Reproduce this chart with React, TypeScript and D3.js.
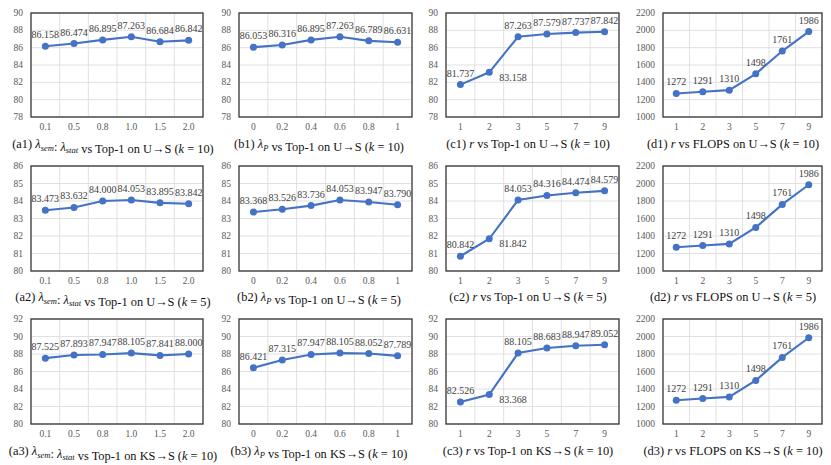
import * as d3 from 'd3'

// x categories
const xRatio = ['0.1', '0.5', '0.8', '1.0', '1.5', '2.0']
const xLambdaP = ['0', '0.2', '0.4', '0.6', '0.8', '1']
const xR = ['1', '2', '3', '5', '7', '9']

// Top-1 accuracy values
const a1 = [86.158, 86.474, 86.895, 87.263, 86.684, 86.842]
const b1 = [86.053, 86.316, 86.895, 87.263, 86.789, 86.631]
const c1 = [81.737, 83.158, 87.263, 87.579, 87.737, 87.842]
const a2 = [83.473, 83.632, 84.0, 84.053, 83.895, 83.842]
const b2 = [83.368, 83.526, 83.736, 84.053, 83.947, 83.79]
const c2 = [80.842, 81.842, 84.053, 84.316, 84.474, 84.579]
const a3 = [87.525, 87.893, 87.947, 88.105, 87.841, 88.0]
const b3 = [86.421, 87.315, 87.947, 88.105, 88.052, 87.789]
const c3 = [82.526, 83.368, 88.105, 88.683, 88.947, 89.052]
// FLOPS
const flops = [1272, 1291, 1310, 1498, 1761, 1986]

// y axis ranges [min, max, step]
const yRow1: [number, number, number] = [78, 90, 2]
const yRow2: [number, number, number] = [80, 86, 1]
const yRow3: [number, number, number] = [80, 92, 2]
const yFlops: [number, number, number] = [1000, 2200, 200]

const tasks = ['U→S', 'U→S', 'KS→S']
const kValues = ['10', '5', '10']

const SERIF = "'Liberation Serif', Tinos, 'Times New Roman', Times, 'DejaVu Serif', serif"
const BLUE = '#4472C4'

const cols = [
  { l: 31, r: 203, cap: 113 },
  { l: 239, r: 412, cap: 319 },
  { l: 446, r: 619, cap: 528 },
  { l: 663, r: 822, cap: 733 },
]
const rows = [
  { t: 13, b: 117, cap: 148 },
  { t: 166, b: 271, cap: 301 },
  { t: 319, b: 424, cap: 455 },
]

interface PanelProps {
  col: number
  row: number
  cats: string[]
  values: number[]
  yr: [number, number, number]
  decimals: number
  sideLabel?: number
}

function Panel({ col, row, cats, values, yr, decimals, sideLabel = -1 }: PanelProps) {
  const { l, r } = cols[col]
  const { t, b } = rows[row]
  const x = d3.scaleBand().domain(cats).range([l, r]).padding(0)
  const y = d3.scaleLinear().domain([yr[0], yr[1]]).range([b, t])
  const ticks = d3.range(yr[0], yr[1] + yr[2] / 2, yr[2])
  const cx = (c: string) => (x(c) ?? 0) + x.bandwidth() / 2
  const line = d3.line<number>().x((_, i) => cx(cats[i])).y(v => y(v))
  return (
    <g>
      {ticks.map(tk => (
        <line key={'h' + tk} x1={l} x2={r} y1={y(tk)} y2={y(tk)} stroke="#d9d9d9" strokeWidth={0.8} />
      ))}
      {cats.slice(1).map(c => (
        <line key={'v' + c} x1={x(c)} x2={x(c)} y1={t} y2={b} stroke="#d9d9d9" strokeWidth={0.8} />
      ))}
      <rect x={l} y={t} width={r - l} height={b - t} fill="none" stroke="#333" strokeWidth={1.3} />
      {ticks.map(tk => (
        <text key={'yl' + tk} x={l - 8} y={y(tk) + 3} textAnchor="end" fontSize={9.5} fill="#595959">
          {tk}
        </text>
      ))}
      {cats.map(c => (
        <text key={'xl' + c} x={cx(c)} y={b + 13} textAnchor="middle" fontSize={9.5} fill="#595959">
          {c}
        </text>
      ))}
      <path d={line(values) ?? ''} fill="none" stroke={BLUE} strokeWidth={2.1} />
      {values.map((v, i) => (
        <circle key={'p' + i} cx={cx(cats[i])} cy={y(v)} r={3.5} fill={BLUE} />
      ))}
      {values.map((v, i) =>
        i === sideLabel ? (
          <text key={'d' + i} x={cx(cats[i]) + 10} y={y(v) + 8.5} fontSize={10} fill="#404040">
            {v.toFixed(decimals)}
          </text>
        ) : (
          <text key={'d' + i} x={cx(cats[i])} y={y(v) - 8} textAnchor="middle" fontSize={10} fill="#404040">
            {v.toFixed(decimals)}
          </text>
        )
      )}
    </g>
  )
}

function Caption({ col, row }: { col: number; row: number }) {
  const tag = `(${'abcd'[col]}${row + 1}) `
  const sub = (s: string) => (
    <>
      <tspan dy={2.5} fontSize={8.5} fontStyle="italic">{s}</tspan>
      <tspan dy={-2.5}>{''}</tspan>
    </>
  )
  let head
  if (col === 0) {
    head = (
      <>
        <tspan fontStyle="italic">λ</tspan>
        {sub('sem')}
        <tspan>: </tspan>
        <tspan fontStyle="italic">λ</tspan>
        {sub('stat')}
        <tspan> vs Top-1</tspan>
      </>
    )
  } else if (col === 1) {
    head = (
      <>
        <tspan fontStyle="italic">λ</tspan>
        {sub('P')}
        <tspan> vs Top-1</tspan>
      </>
    )
  } else {
    head = (
      <>
        <tspan fontStyle="italic">r</tspan>
        <tspan>{col === 2 ? ' vs Top-1' : ' vs FLOPS'}</tspan>
      </>
    )
  }
  return (
    <text x={cols[col].cap} y={rows[row].cap} textAnchor="middle" fontSize={12.4} fill="#111">
      <tspan>{tag}</tspan>
      {head}
      <tspan>{` on ${tasks[row]} (`}</tspan>
      <tspan fontStyle="italic">k</tspan>
      <tspan>{`\u2009=\u2009${kValues[row]})`.replace('\u2009=\u2009', ' = ')}</tspan>
    </text>
  )
}

export default function App() {
  const top1 = [
    [a1, b1, c1],
    [a2, b2, c2],
    [a3, b3, c3],
  ]
  const yRows = [yRow1, yRow2, yRow3]
  const catsByCol = [xRatio, xLambdaP, xR]
  return (
    <svg
      width={831}
      height={465}
      style={{ position: 'absolute', left: 0, top: 0, background: '#fff', fontFamily: SERIF }}
    >
      {rows.map((_, ri) => (
        <g key={ri}>
          {[0, 1, 2].map(ci => (
            <Panel
              key={ci}
              col={ci}
              row={ri}
              cats={catsByCol[ci]}
              values={top1[ri][ci]}
              yr={yRows[ri]}
              decimals={3}
              sideLabel={ci === 2 ? 1 : -1}
            />
          ))}
          <Panel col={3} row={ri} cats={xR} values={flops} yr={yFlops} decimals={0} />
          {[0, 1, 2, 3].map(ci => (
            <Caption key={'c' + ci} col={ci} row={ri} />
          ))}
        </g>
      ))}
    </svg>
  )
}
